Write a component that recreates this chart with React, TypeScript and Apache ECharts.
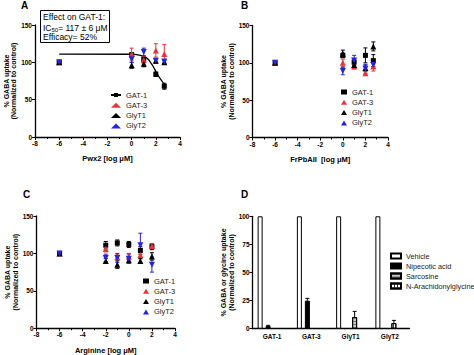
import React, { useEffect, useRef } from 'react';
import * as echarts from 'echarts';

const FONT = '"Liberation Sans", Arial, Helvetica, sans-serif';
const RED = '#e8323c';
const BLUE = '#2424dc';
const BLACK = '#000000';

// ---------- Panel A (Pwx2) ----------
const aX = [-6, 0, 1, 2, 2.7];
const aGAT1 = [100, 110, 104, 84, 68];
const aGAT1Err = [1, 3, 4, 3, 4];
const aGAT3 = [100, 111, 103, 116, 111];
const aGAT3Err = [1, 8, 5, 9, 13];
const aGlyT1 = [100, 96, 98, 102, 100];
const aGlyT1Err = [1, 4, 4, 3, 2];
const aGlyT2 = [100, 104, 114, 102, 101];
const aGlyT2Err = [1, 4, 5, 3, 2];
const aFitX = [-6, 0, 0.5, 1, 1.3, 1.6, 1.9, 2.2, 2.5, 2.7];
const aFitY = [111, 110.8, 110, 108, 105, 99, 91, 82, 75, 70];

// ---------- Panel B (FrPbAII) ----------
const bX = [-6, 0, 1, 2, 2.7];
const bGAT1 = [100, 110, 101, 110, 103];
const bGAT1Err = [1, 3, 4, 10, 8];
const bGAT3 = [100, 100, 95, 86, 95];
const bGAT3Err = [1, 5, 3, 3, 6];
const bGlyT1 = [100, 112, 97, 93, 122];
const bGlyT1Err = [1, 5, 4, 4, 6];
const bGlyT2 = [100, 89, 103, 92, 97];
const bGlyT2Err = [1, 5, 7, 6, 4];

// ---------- Panel C (Arginine) ----------
const cX = [-6, -2, -1, 0, 1, 2];
const cGAT1 = [100, 111, 114, 112, 104, 109];
const cGAT1Err = [1, 5, 4, 4, 5, 4];
const cGAT3 = [100, 106, 95, 96, 98, 110];
const cGAT3Err = [1, 4, 4, 4, 5, 3];
const cGlyT1 = [100, 90, 85, 91, 90, 96];
const cGlyT1Err = [1, 3, 5, 4, 3, 5];
const cGlyT2 = [100, 94, 94, 93, 111, 85];
const cGlyT2Err = [1, 5, 6, 6, 16, 10];

// ---------- Panel D ----------
const dCats = ['GAT-1', 'GAT-3', 'GlyT1', 'GlyT2'];
const dVehicle = [100, 100, 100, 100];
const dNipecotic = [2.4, 25, null, null];
const dNipecoticErr = [0.6, 2, null, null];
const dSarcosine = [null, null, 10.4, null];
const dSarcosineErr = [null, null, 5, null];
const dNAGly = [null, null, null, 5];
const dNAGlyErr = [null, null, null, 2.4];

const legendNames = ['GAT-1', 'GAT-3', 'GlyT1', 'GlyT2'];

function errRender(color: string, capW: number, offset = 0, upOnly = false) {
  return (params: any, api: any) => {
    const x = api.value(0);
    const lo = api.value(1);
    const hi = api.value(2);
    if (lo == null || hi == null || isNaN(lo) || isNaN(hi)) return null;
    const p1 = api.coord([x, lo]);
    const p2 = api.coord([x, hi]);
    const cx = p1[0] + offset;
    const st = { stroke: color, lineWidth: 1 };
    const children: any[] = [
      { type: 'line', shape: { x1: cx, y1: p1[1], x2: cx, y2: p2[1] }, style: st },
      { type: 'line', shape: { x1: cx - capW / 2, y1: p2[1], x2: cx + capW / 2, y2: p2[1] }, style: st },
    ];
    if (!upOnly) {
      children.push({ type: 'line', shape: { x1: cx - capW / 2, y1: p1[1], x2: cx + capW / 2, y2: p1[1] }, style: st });
    }
    return { type: 'group', children };
  };
}

const axisLineStyle = { color: BLACK, width: 1.3 };
const tickLabel = { fontSize: 6.5, fontWeight: 'bold', color: BLACK, fontFamily: FONT };
const nameStyle = { fontSize: 7, fontWeight: 'bold', color: BLACK, fontFamily: FONT, lineHeight: 7.5 };
const legendText = { fontSize: 7.5, lineHeight: 8, color: '#222', fontFamily: FONT };

interface Grp { name: string; x: number[]; y: number[]; err: number[]; color: string; symbol: string; rotate: number; size: number }

function scatterPanel(cfg: {
  grid: any; xName: string; xNameGap: number; yNameGap: number;
  groups: Grp[]; legend: any; letter: any; fit?: { x: number[]; y: number[] }; extraGraphic?: any[];
}) {
  const series: any[] = [];
  if (cfg.fit) {
    series.push({
      type: 'line', name: 'GAT-1', smooth: true, showSymbol: false, symbol: 'rect', symbolSize: 5,
      data: cfg.fit.x.map((v, i) => [v, cfg.fit!.y[i]]),
      lineStyle: { color: BLACK, width: 1.3 }, itemStyle: { color: BLACK }, z: 2,
    });
  }
  cfg.groups.forEach((g) => {
    series.push({
      type: 'custom', renderItem: errRender(g.color, 4), z: 3,
      data: g.x.map((v, i) => [v, g.y[i] - g.err[i], g.y[i] + g.err[i]]),
      encode: { x: 0, y: [1, 2] },
    });
  });
  cfg.groups.forEach((g) => {
    series.push({
      type: 'scatter', name: g.name, symbol: g.symbol, symbolRotate: g.rotate, symbolSize: g.size,
      data: g.x.map((v, i) => [v, g.y[i]]), itemStyle: { color: g.color, opacity: 1 }, z: 4,
    });
  });
  return {
    animation: false,
    grid: cfg.grid,
    xAxis: {
      type: 'value', min: -8, max: 4, interval: 2,
      axisLine: { show: true, onZero: false, lineStyle: axisLineStyle },
      axisTick: { show: true, length: 3, lineStyle: { color: BLACK, width: 1 } },
      minorTick: { show: true, splitNumber: 2, length: 2, lineStyle: { color: BLACK, width: 1 } },
      splitLine: { show: false },
      axisLabel: { ...tickLabel, margin: 3 },
      name: cfg.xName, nameLocation: 'middle', nameGap: cfg.xNameGap,
      nameTextStyle: { ...nameStyle, fontSize: 7.5 },
    },
    yAxis: {
      type: 'value', min: 0, max: 150, interval: 50,
      axisLine: { show: true, onZero: false, lineStyle: axisLineStyle },
      axisTick: { show: true, length: 3, lineStyle: { color: BLACK, width: 1 } },
      splitLine: { show: false },
      axisLabel: { ...tickLabel, margin: 3 },
      name: '% GABA uptake\n(Normalized to control)', nameLocation: 'middle', nameGap: cfg.yNameGap,
      nameRotate: 90, nameTextStyle: nameStyle,
    },
    legend: {
      orient: 'vertical', padding: 0, ...cfg.legend, itemHeight: 5, itemGap: 2.3, selectedMode: false,
      symbolRotate: 'inherit',
      textStyle: legendText,
      data: legendNames,
    },
    graphic: [
      { type: 'text', ...cfg.letter, style: { text: cfg.letter.text, fontSize: 10, fontWeight: 'bold', fontFamily: FONT, fill: BLACK } },
      ...(cfg.extraGraphic || []),
    ],
    series,
  };
}

function groups(x: number[], g1: number[], e1: number[], g3: number[], e3: number[], t1: number[], te1: number[], t2: number[], te2: number[]): Grp[] {
  return [
    { name: 'GAT-1', x, y: g1, err: e1, color: BLACK, symbol: 'rect', rotate: 0, size: 5 },
    { name: 'GAT-3', x, y: g3, err: e3, color: RED, symbol: 'triangle', rotate: 0, size: 6 },
    { name: 'GlyT1', x, y: t1, err: te1, color: BLACK, symbol: 'triangle', rotate: 0, size: 6 },
    { name: 'GlyT2', x, y: t2, err: te2, color: BLUE, symbol: 'triangle', rotate: 180, size: 6 },
  ];
}

const optionA = scatterPanel({
  grid: { left: 35, top: 25, width: 145, height: 112 },
  xName: 'Pwx2 [log \u03bcM]', xNameGap: 18, yNameGap: 17,
  groups: groups(aX, aGAT1, aGAT1Err, aGAT3, aGAT3Err, aGlyT1, aGlyT1Err, aGlyT2, aGlyT2Err),
  legend: { left: 110, top: 91, itemWidth: 10 },
  letter: { text: 'A', left: 21, top: 0 },
  fit: { x: aFitX, y: aFitY },
  extraGraphic: [
    {
      type: 'group', left: 40, top: 10,
      children: [
        { type: 'rect', shape: { x: 0, y: 0, width: 69, height: 32 }, style: { fill: '#fff', stroke: BLACK, lineWidth: 1 } },
        { type: 'text', x: 2.5, y: 2, style: { text: 'Effect on GAT-1:', fontSize: 8.5, fontFamily: FONT, fill: BLACK } },
        {
          type: 'text', x: 2.5, y: 12,
          style: {
            text: 'IC{s|50}= 117 \u00b1 6 \u03bcM', fontSize: 8.5, fontFamily: FONT, fill: BLACK,
            rich: { s: { fontSize: 6, fontFamily: FONT, fill: BLACK, padding: [4, 0, 0, 0] } },
          },
        },
        { type: 'text', x: 2.5, y: 22, style: { text: 'Efficacy= 52%', fontSize: 8.5, fontFamily: FONT, fill: BLACK } },
      ],
    },
  ],
});

const optionB = scatterPanel({
  grid: { left: 252.5, top: 25.5, width: 135.5, height: 112 },
  xName: 'FrPbAII  [log \u03bcM]', xNameGap: 18, yNameGap: 16,
  groups: groups(bX, bGAT1, bGAT1Err, bGAT3, bGAT3Err, bGlyT1, bGlyT1Err, bGlyT2, bGlyT2Err),
  legend: { left: 341, top: 88, itemWidth: 6 },
  letter: { text: 'B', left: 241, top: 0 },
});

const optionC = scatterPanel({
  grid: { left: 36.5, top: 216, width: 138.5, height: 112.7 },
  xName: 'Arginine [log \u03bcM]', xNameGap: 18, yNameGap: 15.5,
  groups: groups(cX, cGAT1, cGAT1Err, cGAT3, cGAT3Err, cGlyT1, cGlyT1Err, cGlyT2, cGlyT2Err),
  legend: { left: 143, top: 277, itemWidth: 6 },
  letter: { text: 'C', left: 23, top: 189 },
});

const BAR_OFFSETS = [-12, -4, 4, 12];

const optionD = {
  animation: false,
  grid: { left: 252.5, top: 216.3, width: 157, height: 112.4 },
  xAxis: {
    type: 'category', data: dCats,
    axisLine: { show: true, lineStyle: axisLineStyle },
    axisTick: { show: false },
    axisLabel: { ...tickLabel, margin: 4 },
  },
  yAxis: {
    type: 'value', min: 0, max: 100, interval: 25,
    axisLine: { show: true, lineStyle: axisLineStyle },
    axisTick: { show: true, length: 3, lineStyle: { color: BLACK, width: 1 } },
    splitLine: { show: false },
    axisLabel: { ...tickLabel, margin: 3 },
    name: '% GABA or glycine uptake\n(Normalized to control)', nameLocation: 'middle', nameGap: 16,
    nameRotate: 90, nameTextStyle: nameStyle,
  },
  legend: {
    orient: 'vertical', padding: 0, left: 390, top: 252, itemWidth: 10, itemHeight: 5, itemGap: 2, icon: 'rect',
    selectedMode: false,
    textStyle: { ...legendText, fontSize: 7.3 },
    data: ['Vehicle', 'Nipecotic acid', 'Sarcosine', 'N-Arachidonylglycine'],
  },
  graphic: [
    { type: 'text', left: 241, top: 189, style: { text: 'D', fontSize: 10, fontWeight: 'bold', fontFamily: FONT, fill: BLACK } },
  ],
  series: [
    {
      type: 'bar', name: 'Vehicle', data: dVehicle, barWidth: 5, barGap: '60%',
      itemStyle: { color: '#ffffff', borderColor: BLACK, borderWidth: 1 },
    },
    {
      type: 'bar', name: 'Nipecotic acid', data: dNipecotic, barWidth: 5, barGap: '60%',
      itemStyle: { color: '#000000', borderColor: BLACK, borderWidth: 1 },
    },
    {
      type: 'bar', name: 'Sarcosine', data: dSarcosine, barWidth: 5, barGap: '60%', stack: 'glyt',
      itemStyle: {
        color: '#c8c8c8', borderColor: BLACK, borderWidth: 1,
        decal: { symbol: 'rect', symbolSize: 1, dashArrayX: [1, 0], dashArrayY: [1, 1.5], color: '#707070', backgroundColor: '#d0d0d0' },
      },
    },
    {
      type: 'bar', name: 'N-Arachidonylglycine', data: dNAGly, barWidth: 5, barGap: '60%', stack: 'glyt',
      itemStyle: {
        color: '#ffffff', borderColor: BLACK, borderWidth: 1,
        decal: { symbol: 'rect', symbolSize: 1, dashArrayX: [1, 1.2], dashArrayY: [1, 0], color: '#333333', backgroundColor: '#ffffff' },
      },
    },
    { type: 'bar', data: [null, null, null, null], barWidth: 5, barGap: '60%' },
    {
      type: 'custom', renderItem: errRender(BLACK, 4, BAR_OFFSETS[1], true), z: 5,
      data: dNipecotic.map((v, i) => [i, v, v == null ? null : v + (dNipecoticErr[i] as number)]),
      encode: { x: 0, y: [1, 2] },
    },
    {
      type: 'custom', renderItem: errRender(BLACK, 4, BAR_OFFSETS[2], true), z: 5,
      data: dSarcosine.map((v, i) => [i, v, v == null ? null : v + (dSarcosineErr[i] as number)]),
      encode: { x: 0, y: [1, 2] },
    },
    {
      type: 'custom', renderItem: errRender(BLACK, 4, BAR_OFFSETS[2], true), z: 5,
      data: dNAGly.map((v, i) => [i, v, v == null ? null : v + (dNAGlyErr[i] as number)]),
      encode: { x: 0, y: [1, 2] },
    },
  ],
};

function Chart({ option }: { option: any }) {
  const ref = useRef<HTMLDivElement>(null);
  useEffect(() => {
    const chart = echarts.init(ref.current!, null, { renderer: 'svg' });
    chart.setOption(option);
    return () => chart.dispose();
  }, [option]);
  return <div ref={ref} style={{ position: 'absolute', left: 0, top: 0, width: 474, height: 355 }} />;
}

export default function App() {
  return (
    <div style={{ position: 'absolute', left: 0, top: 0, width: 474, height: 355, background: '#fff', overflow: 'hidden' }}>
      <Chart option={optionA} />
      <Chart option={optionB} />
      <Chart option={optionC} />
      <Chart option={optionD} />
    </div>
  );
}
